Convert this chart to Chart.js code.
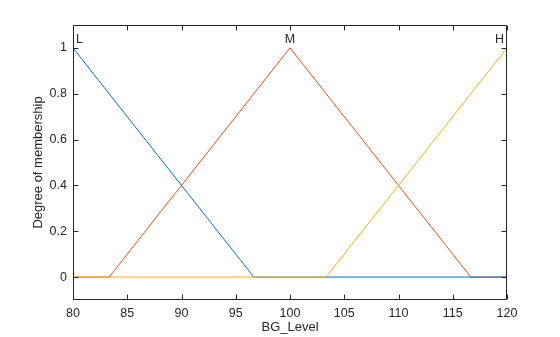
<!DOCTYPE html>
<html><head><meta charset="utf-8">
<script src="https://cdn.jsdelivr.net/npm/chart.js@4.4.0/dist/chart.umd.min.js"></script>
<style>html,body{margin:0;padding:0;background:#fff}#wrap{width:560px;height:337px}</style>
</head><body><div id="wrap"><canvas id="c" width="560" height="337"></canvas></div>
<script>
const lowX = [80, 96.67, 120];
const lowY = [1, 0, 0];
const medX = [80, 83.33, 100, 116.67, 120];
const medY = [0, 0, 1, 0, 0];
const highX = [80, 103.33, 120];
const highY = [0, 0, 1];
const mfNames = ['L', 'M', 'H'];
const mfPeakX = [80, 100, 120];
const xTicks = [80, 85, 90, 95, 100, 105, 110, 115, 120];
const yTicks = [0, 0.2, 0.4, 0.6, 0.8, 1];
const xTitle = 'BG_Level';
const yTitle = 'Degree of membership';

const pts = (xs, ys) => xs.map((x, i) => ({x: x, y: ys[i]}));
const AX = '#262626';
const FONT = '"Liberation Sans", Arial, sans-serif';

const decor = {
  id: 'decor',
  afterDatasetsDraw(chart) {
    const ctx = chart.ctx, a = chart.chartArea, xs = chart.scales.x, ys = chart.scales.y;
    ctx.save();
    ctx.strokeStyle = AX; ctx.lineWidth = 1;
    const L = Math.round(a.left) + 0.5, R = Math.round(a.right) - 0.5, T = Math.round(a.top) + 0.5, B = Math.round(a.bottom) - 0.5;
    ctx.beginPath(); ctx.rect(L, T, R - L, B - T); ctx.stroke();
    const tl = 5;
    ctx.beginPath();
    xTicks.forEach(v => { const p = Math.round(xs.getPixelForValue(v)) + 0.5;
      ctx.moveTo(p, B); ctx.lineTo(p, B - tl); ctx.moveTo(p, T); ctx.lineTo(p, T + tl); });
    yTicks.forEach(v => { const p = Math.round(ys.getPixelForValue(v)) + 0.5;
      ctx.moveTo(L, p); ctx.lineTo(L + tl, p); ctx.moveTo(R, p); ctx.lineTo(R - tl, p); });
    ctx.stroke();
    // MF labels
    ctx.fillStyle = AX; ctx.font = '12.5px ' + FONT; ctx.textBaseline = 'alphabetic';
    mfNames.forEach((n, i) => {
      const px = xs.getPixelForValue(mfPeakX[i]);
      const py = ys.getPixelForValue(1) - 5;
      ctx.textAlign = i === 0 ? 'left' : (i === mfNames.length - 1 ? 'right' : 'center');
      ctx.fillText(n, i === 0 ? px + 3 : (i === mfNames.length - 1 ? px - 3 : px), py);
    });
    // axis titles
    ctx.font = '13px ' + FONT; ctx.textAlign = 'center'; ctx.textBaseline = 'middle';
    ctx.fillText(xTitle, (a.left + a.right) / 2, 327);
    ctx.translate(38, (a.top + a.bottom) / 2); ctx.rotate(-Math.PI / 2);
    ctx.fillText(yTitle, 0, 0);
    ctx.restore();
  }
};

new Chart(document.getElementById('c'), {
  type: 'line',
  data: {
    datasets: [
      {label: 'L', data: pts(lowX, lowY), borderColor: '#0072BD', order: 1},
      {label: 'M', data: pts(medX, medY), borderColor: '#D95319', order: 2},
      {label: 'H', data: pts(highX, highY), borderColor: '#EDB120', order: 0}
    ].map(d => Object.assign(d, {borderWidth: 1, pointRadius: 0, tension: 0, fill: false}))
  },
  options: {
    responsive: false, animation: false, devicePixelRatio: 1,
    layout: {padding: {left: 0, top: 25, right: 53, bottom: 0}},
    plugins: {legend: {display: false}, tooltip: {enabled: false}},
    scales: {
      x: {type: 'linear', min: 80, max: 120,
        afterBuildTicks: s => { s.ticks = xTicks.map(v => ({value: v})); },
        afterFit: s => { s.height = 37; },
        grid: {display: false, drawTicks: false}, border: {display: false},
        ticks: {padding: 6, color: AX, font: {family: FONT, size: 12.5}, callback: v => String(v), maxRotation: 0, autoSkip: false}},
      y: {type: 'linear', min: -0.1, max: 1.1,
        afterBuildTicks: s => { s.ticks = yTicks.map(v => ({value: v})); },
        afterFit: s => { s.width = 73; },
        grid: {display: false, drawTicks: false}, border: {display: false},
        ticks: {padding: 6, color: AX, font: {family: FONT, size: 12.5}, callback: v => String(Math.round(v * 10) / 10), autoSkip: false}}
    }
  },
  plugins: [decor]
});
</script></body></html>
